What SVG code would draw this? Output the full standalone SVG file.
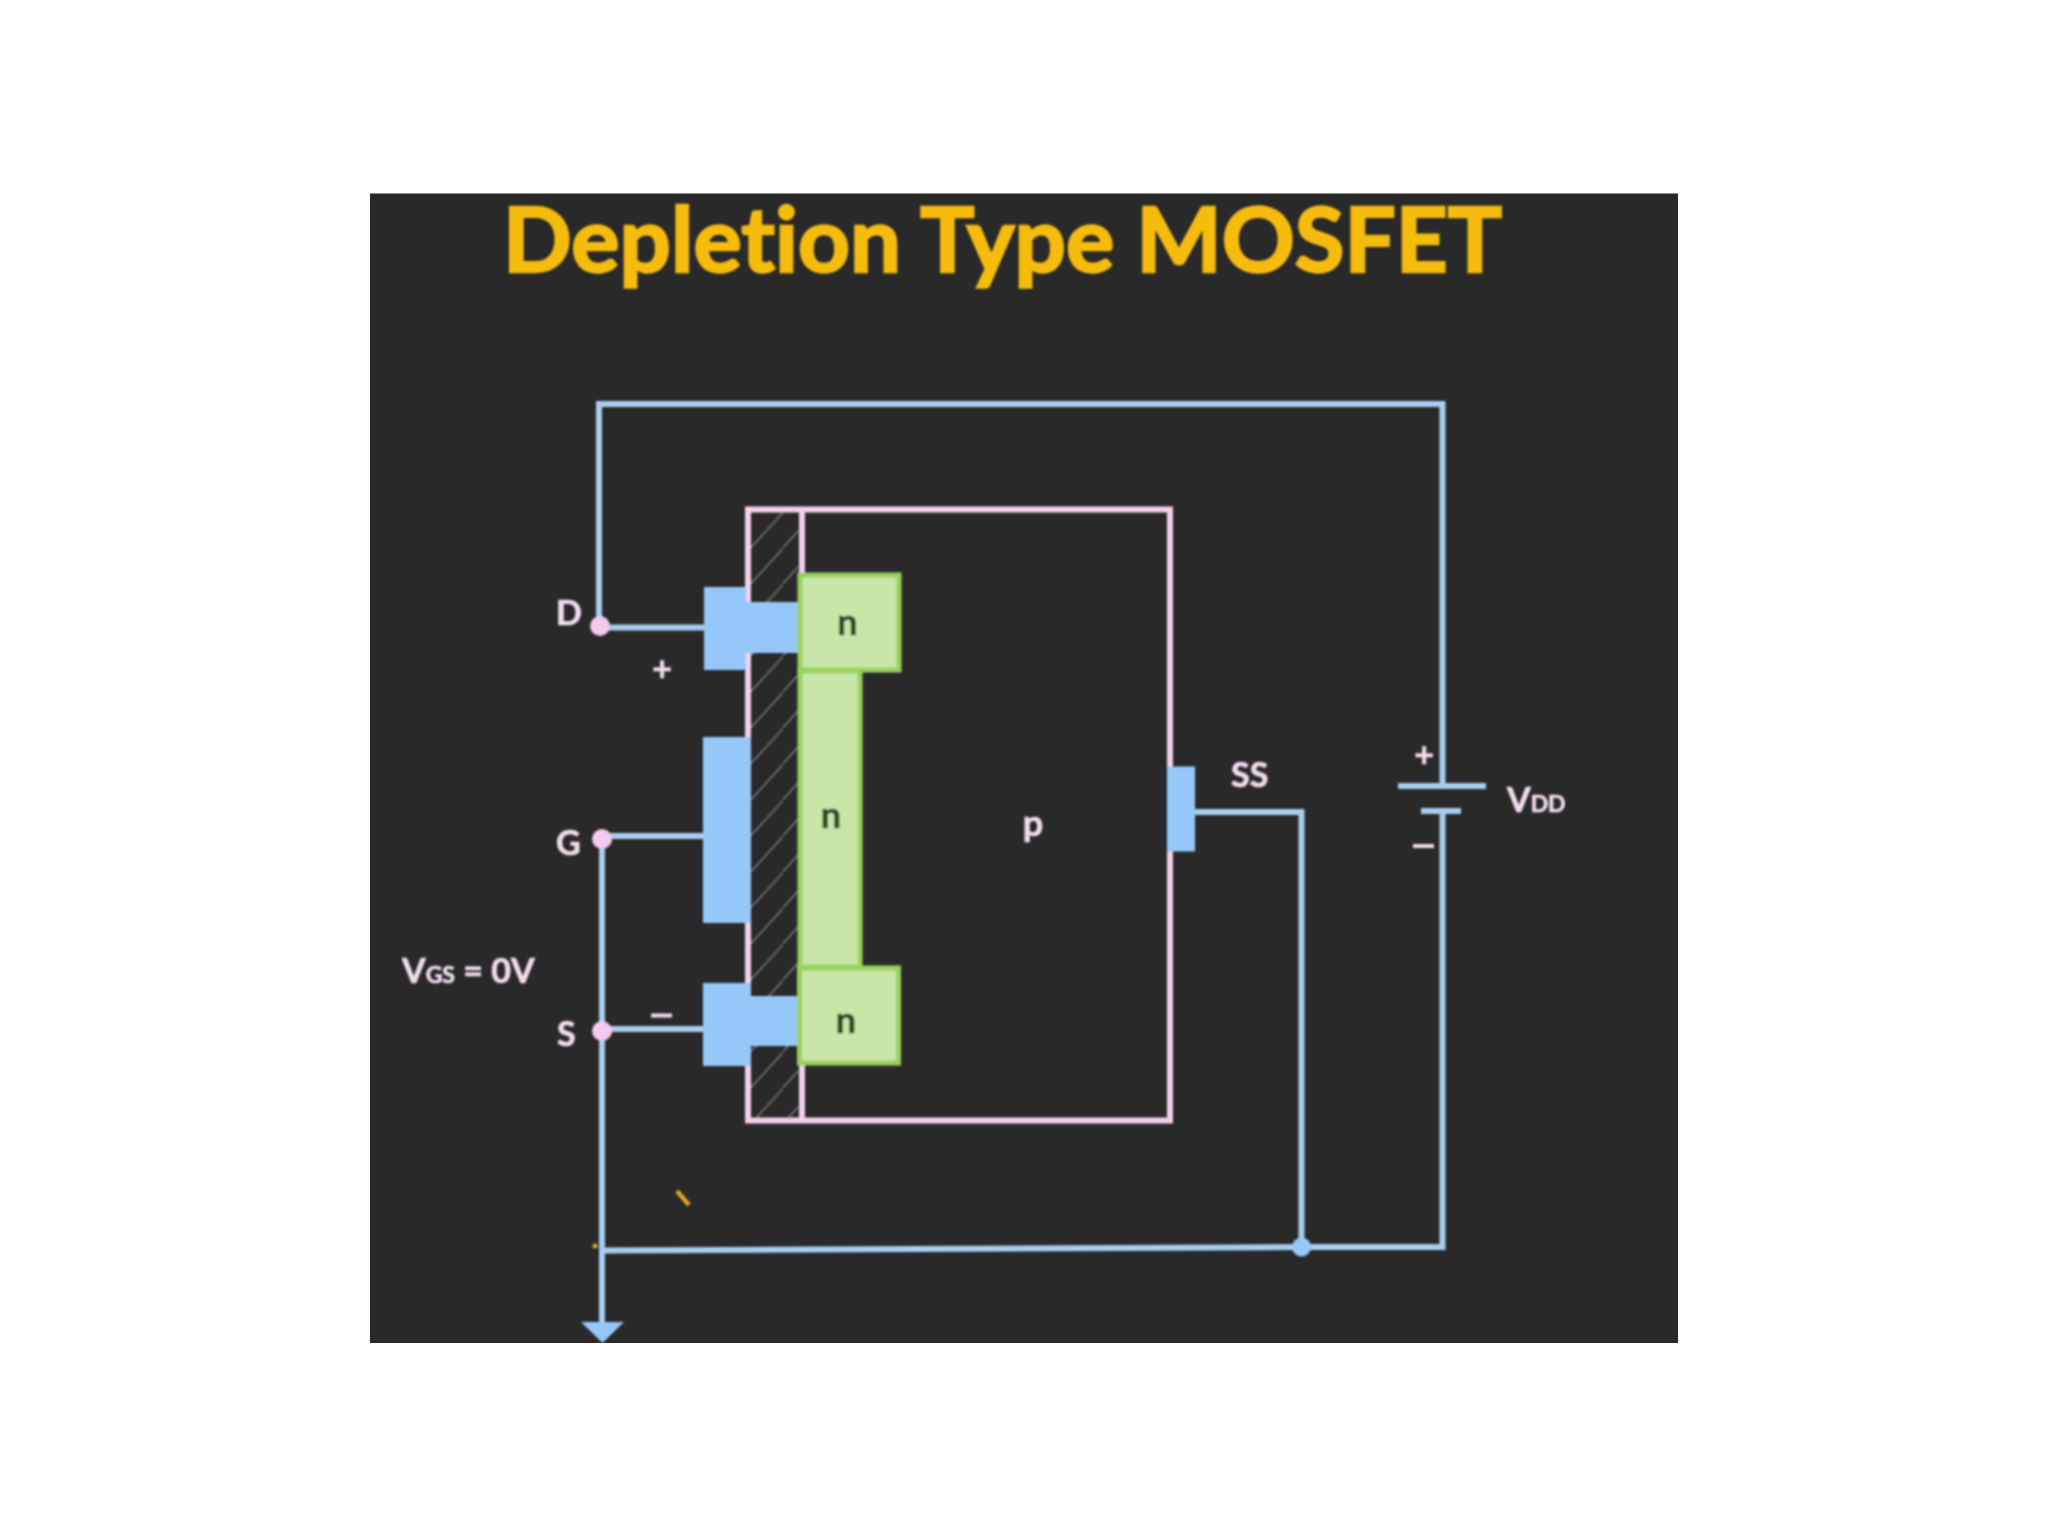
<svg xmlns="http://www.w3.org/2000/svg" width="2048" height="1536" viewBox="0 0 2048 1536">
<style>
.wire{fill:none;stroke:#a8cdf0;stroke-width:6;stroke-linejoin:miter}
.pad{fill:#95c8f9;stroke:none}
.ox{fill:none;stroke:#f2d2ea;stroke-width:6}
.gr{fill:#c9e6a9;stroke:#9ad15c;stroke-width:5}
.lb{font-family:"Lato","Liberation Sans",sans-serif;font-weight:700;fill:#f0dcec;stroke:#f0dcec;stroke-width:.7}
.big{font-size:34px}
.sub{font-size:23px}
.nl{font-family:"Lato","Liberation Sans",sans-serif;font-weight:700;font-size:36px;fill:#2e4a22;stroke:#2e4a22;stroke-width:.7;text-anchor:middle}
.dot{fill:#f5c8ee}
</style>
<defs>
<pattern id="hatch" patternUnits="userSpaceOnUse" width="32" height="36" x="751" y="512">
<path d="M-4 40L36 -4" stroke="#6c6c6e" stroke-width="1.800" fill="none"/>
</pattern>
<filter id="soft" x="0" y="0" width="100%" height="100%"><feGaussianBlur stdDeviation="0.800"/></filter>
</defs>
<rect width="2048" height="1536" fill="#ffffff"/>
<rect id="background" x="370" y="193.500" width="1308" height="1149.500" fill="#29292a"/>
<g id="diagram" filter="url(#soft)">
<text id="title" x="503" y="272" font-family="Lato,'Liberation Sans',sans-serif" font-weight="700" font-size="90" fill="#f6bc0c" stroke="#f6bc0c" stroke-width="2.500" textLength="999" lengthAdjust="spacingAndGlyphs" style="font-variant-ligatures:none">Depletion Type MOSFET</text>
<g id="connectors">
<path class="wire" d="M599 626V404H1442.500V786"/>
<path class="wire" d="M1442.500 811V1247H1301L602 1250.500"/>
<path class="wire" d="M602 839V1325"/>
<path class="wire" d="M600 627.500H704"/>
<path class="wire" d="M602 836H703"/>
<path class="wire" d="M602 1029H703"/>
<path class="wire" d="M1195 812H1301.500V1247"/>
</g>
<g id="substrate">
<rect x="748" y="509.500" width="422" height="611" class="ox"/>
<rect x="751" y="513" width="47" height="604" fill="url(#hatch)"/>
<path class="ox" d="M802 510V1120"/>
<text class="lb" x="1033" y="836" font-size="36" text-anchor="middle">p</text>
</g>
<g id="drain">
<path class="pad" d="M704 587H746V602H800V653H746V670H704Z"/>
<rect class="gr" x="800" y="575" width="99" height="95"/>
<text class="nl" x="847.500" y="635">n</text>
<circle class="dot" cx="600" cy="626" r="10"/>
<text class="lb big" x="556" y="625">D</text>
<text class="lb big" x="662" y="681" text-anchor="middle">+</text>
</g>
<g id="channel">
<rect class="gr" x="800" y="671" width="60" height="296"/>
<text class="nl" x="831" y="828">n</text>
</g>
<g id="gate">
<rect class="pad" x="703" y="737" width="48" height="186"/>
<circle class="dot" cx="602" cy="839" r="10"/>
<text class="lb big" x="556" y="855">G</text>
</g>
<g id="source">
<path class="pad" d="M703 983H751V996H800V1046H751V1066H703Z"/>
<rect class="gr" x="799.500" y="968" width="99" height="95"/>
<text class="nl" x="846" y="1033">n</text>
<circle class="dot" cx="602" cy="1031" r="10"/>
<text class="lb big" x="557" y="1046">S</text>
<rect x="651" y="1013.500" width="21" height="4" fill="#f0dcec"/>
</g>
<g id="vgs">
<text class="lb big" x="402" y="983">V<tspan class="sub">GS</tspan> = 0V</text>
</g>
<g id="body">
<rect class="pad" x="1167" y="766.500" width="28" height="85"/>
<text class="lb big" x="1231" y="787">SS</text>
<circle cx="1301.500" cy="1247" r="9.500" fill="#95c8f9"/>
</g>
<g id="battery">
<path class="wire" d="M1398 786H1486"/>
<path class="wire" d="M1421 811H1461"/>
<text class="lb big" x="1424" y="767" text-anchor="middle">+</text>
<rect x="1413" y="844" width="21" height="4" fill="#f0dcec"/>
<text class="lb big" x="1507" y="811.500">V<tspan class="sub">DD</tspan></text>
</g>
<g id="ground">
<path d="M581 1322H624L602.500 1343Z" fill="#95c8f9"/>
</g>
<g id="marks">
<path d="M677 1191L689 1205" stroke="#d9a520" stroke-width="4.500" fill="none"/>
<circle cx="595" cy="1246" r="2.500" fill="#c9b13a"/>
</g>
</g>
</svg>
